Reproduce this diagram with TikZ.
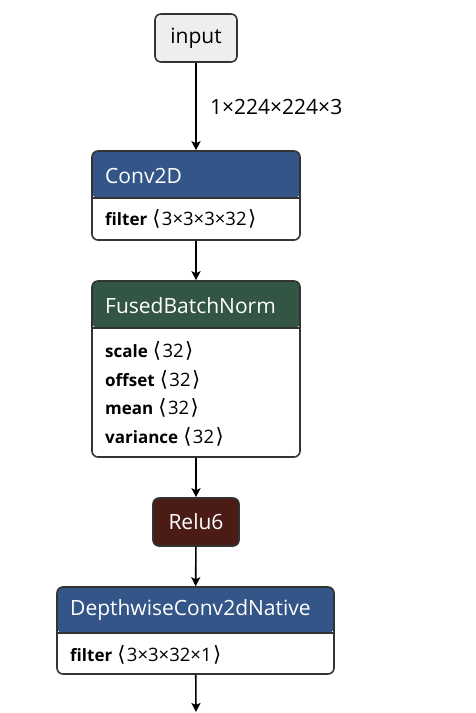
\documentclass[tikz,border=0pt]{standalone}
\usepackage{fontspec}
\setmainfont{Open Sans}
\newfontfamily\bracketfont{DejaVu Sans}
\usetikzlibrary{arrows.meta}

\definecolor{layerblue}{HTML}{335588}
\definecolor{normgreen}{HTML}{335544}
\definecolor{actred}{HTML}{4B1B16}
\definecolor{inputgray}{HTML}{EEEEEE}
\definecolor{edgegray}{HTML}{333333}

\newcommand{\shp}[1]{\hspace{5pt}{\bracketfont\fontsize{21}{20}\selectfont\char"27E8}\hspace{1.5pt}{\fontsize{18.5}{20}\selectfont#1}\hspace{1.5pt}{\bracketfont\fontsize{21}{20}\selectfont\char"27E9}}

\tikzset{
  opbox/.style={draw=edgegray, line width=1.6pt, rounded corners=6pt, inner sep=0pt},
  headfill/.style 2 args={path picture={
      \fill[#1] (path picture bounding box.north west) rectangle
        ([yshift=-#2]path picture bounding box.north east);
      \draw[edgegray, line width=1.4pt]
        ([yshift=-#2]path picture bounding box.north west) --
        ([yshift=-#2]path picture bounding box.north east);}},
  headtext/.style={anchor=west, inner sep=0pt, text=white, font=\fontsize{21}{24}\selectfont},
  attrtext/.style={anchor=west, inner sep=0pt, font=\fontsize{17}{20}\selectfont},
  edge/.style={-{Stealth[length=9pt,width=9pt,inset=2pt]}, line width=1.6pt}
}

\begin{document}
\begin{tikzpicture}[x=1pt,y=-1pt]
\useasboundingbox (0,0) rectangle (476,713);

% input
\node[opbox, fill=inputgray, minimum width=82pt, minimum height=48pt,
  font=\fontsize{21}{24}\selectfont] (input) at (196,38) {input};

% Conv2D
\node[opbox, fill=white, minimum width=208pt, minimum height=89pt,
  headfill={layerblue}{47pt}] (conv) at (196,195.5) {};
\node[headtext] (convhead) at (105,176) {Conv2D};
\node[attrtext] (convfilter) at (105,219) {\textbf{filter}\shp{3×3×3×32}};

% FusedBatchNorm
\node[opbox, fill=white, minimum width=208pt, minimum height=176pt,
  headfill={normgreen}{47pt}] (bn) at (196,369) {};
\node[headtext] (bnhead) at (105,306) {FusedBatchNorm};
\node[attrtext] (bnscale) at (105,351) {\textbf{scale}\shp{32}};
\node[attrtext] (bnoffset) at (105,380) {\textbf{offset}\shp{32}};
\node[attrtext] (bnmean) at (105,408) {\textbf{mean}\shp{32}};
\node[attrtext] (bnvar) at (105,437) {\textbf{variance}\shp{32}};

% Relu6
\node[opbox, fill=actred, text=white, minimum width=86pt, minimum height=48pt,
  font=\fontsize{21}{24}\selectfont] (relu) at (196,522) {Relu6};

% DepthwiseConv2dNative
\node[opbox, fill=white, minimum width=277pt, minimum height=87pt,
  headfill={layerblue}{46pt}] (dw) at (195.5,630.5) {};
\node[headtext] (dwhead) at (70,610) {DepthwiseConv2dNative};
\node[attrtext] (dwfilter) at (70,655) {\textbf{filter}\shp{3×3×32×1}};

\coordinate (out) at (196,712);

% edges
\draw[edge] (input) -- node[right=10pt, font=\fontsize{21}{24}\selectfont] (inshape) {1×224×224×3} (conv);
\draw[edge] (conv) -- (bn);
\draw[edge] (bn) -- (relu);
\draw[edge] (relu) -- (dw);
\draw[edge] (dw) -- (out);
\end{tikzpicture}
\end{document}
